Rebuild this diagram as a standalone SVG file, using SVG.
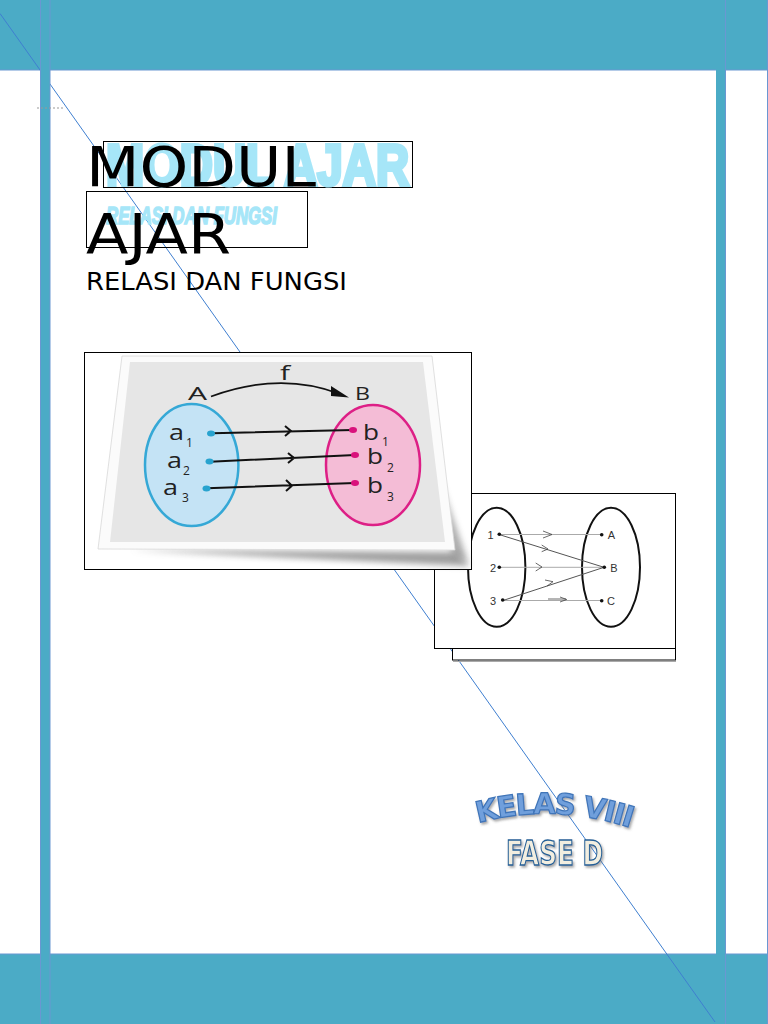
<svg xmlns="http://www.w3.org/2000/svg" width="768" height="1024" viewBox="0 0 768 1024">
<style>
.band{fill:#4babc6;stroke:#6a97d2;stroke-width:1}
.diag{fill:none;stroke:#3f7fd0;stroke-width:1}
.frame{fill:#fff;stroke:#000;stroke-width:1}
.tt{font-family:"DejaVu Sans",sans-serif;fill:#000}
.art{font-family:"Liberation Sans",sans-serif;font-weight:700;fill:#a6e6f8;stroke:#a6e6f8}
.lab{font-family:"Open Sans",sans-serif;fill:#222}
.sub{font-family:"Open Sans",sans-serif;fill:#222;font-size:12px}
.lab2{font-family:"Liberation Sans",sans-serif;font-size:11px;fill:#333;text-anchor:middle}
.ar{fill:none;stroke:#111;stroke-width:2}
.thin{fill:none;stroke:#aaa;stroke-width:1}
.thick{fill:none;stroke:#555;stroke-width:1}
.chev{fill:none;stroke:#444;stroke-width:.8}
</style>
<defs>
<filter id="blur" x="-20%" y="-50%" width="140%" height="200%"><feGaussianBlur stdDeviation="3"/></filter>
<filter id="soft" x="-10%" y="-10%" width="120%" height="130%"><feDropShadow dx="1.500" dy="2" stdDeviation="1" flood-color="#555" flood-opacity=".5"/></filter>
<path id="arc" d="M478 823 Q555 802 634 829"/>
</defs>
<rect width="768" height="1024" fill="#fff"/>
<g id="page-bands">
<rect class="band" x="-2" y="-2" width="772" height="72"/>
<rect class="band" x="-2" y="954" width="769.500" height="72"/>
</g>
<g id="diagonal">
<path class="diag" d="M0 13.500L715 1022"/>
</g>
<g id="side-bands">
<rect class="band" x="40.500" y="-2" width="9.500" height="1028"/>
<path d="M716 0V1024H725V0Z" fill="#4babc6"/>
<path d="M725.500 0V1024M767.500 0V1024" stroke="#6a97d2" fill="none"/>
<path d="M716 69.500H725M716 954H725" stroke="#4babc6"/>
</g>
<path id="dots" d="M37 108H65" stroke="#999" stroke-dasharray="2 2" fill="none"/>
<g id="title-art">
<rect x="103.500" y="141.500" width="309" height="46" fill="none" stroke="#000"/>
<text class="art" x="106" y="185" font-size="57" stroke-width="4" textLength="303" lengthAdjust="spacingAndGlyphs">MODUL AJAR</text>
<rect x="86.500" y="191.500" width="221" height="56" fill="none" stroke="#000"/>
<text class="art" x="106" y="224" font-size="23" font-style="italic" stroke-width="1.500" textLength="171" lengthAdjust="spacingAndGlyphs">RELASI DAN FUNGSI</text>
</g>
<g id="title">
<text class="tt" x="86" y="186" font-size="56" textLength="230" lengthAdjust="spacingAndGlyphs">MODUL</text>
<text class="tt" x="86" y="253" font-size="56" textLength="145" lengthAdjust="spacingAndGlyphs">AJAR</text>
<text class="tt" x="86" y="290" font-size="24" textLength="261" lengthAdjust="spacingAndGlyphs">RELASI DAN FUNGSI</text>
</g>
<g id="image-2">
<rect class="frame" x="452.500" y="600" width="223" height="60"/>
<path d="M453 661.500H676" stroke="#aaa" fill="none"/>
<rect class="frame" x="434.500" y="493.500" width="241" height="155"/>
<g fill="none" stroke="#111" stroke-width="2">
<ellipse cx="496.700" cy="567.300" rx="28.700" ry="59.500"/>
<ellipse cx="611" cy="567.300" rx="29" ry="59.500"/>
</g>
<path class="thin" d="M499 534.500H601M499 567.300H604M503 600.500H601"/>
<path class="thick" d="M499 534.500L604 567.300L503 600.500"/>
<path class="chev" d="M543 531L552 534.500L543 538M541.700 545L548 549L541.700 551.700M535.700 563L542 567L535.700 571M545 580L553 581.700L547 586M548 599H566M560 597L566.700 599.500L560 602"/>
<g fill="#111">
<circle cx="499.300" cy="534.300" r="1.800"/><circle cx="499.300" cy="567.300" r="1.800"/><circle cx="502.700" cy="600" r="1.800"/>
<circle cx="601.700" cy="534.700" r="1.800"/><circle cx="604.300" cy="567.300" r="1.800"/><circle cx="601.700" cy="600.700" r="1.800"/>
</g>
<text class="lab2" x="490.500" y="539">1</text><text class="lab2" x="493" y="571.500">2</text><text class="lab2" x="493" y="604.500">3</text>
<text class="lab2" x="611.500" y="539">A</text><text class="lab2" x="614" y="571.500">B</text><text class="lab2" x="611" y="604.500">C</text>
</g>
<g id="image-1">
<rect class="frame" x="84.500" y="352.500" width="387" height="217"/>
<path d="M130 550L455 552L470 566L380 562Z" fill="#777" opacity=".7" filter="url(#blur)"/>
<path d="M440 480L468 562L452 556Z" fill="#888" opacity=".7" filter="url(#blur)"/>
<path d="M122 356H432L455 550L98 549Z" fill="#fbfbfb" stroke="#d8d8d8" stroke-width=".8"/>
<path d="M130 362H423L445 542L110 542Z" fill="#e6e6e6"/>
<ellipse cx="191.700" cy="465" rx="46.700" ry="61" fill="#c4e3f5" stroke="#35a8d6" stroke-width="2.500"/>
<ellipse cx="373" cy="465" rx="47" ry="60" fill="#f4bcd6" stroke="#dd1f86" stroke-width="2.500"/>
<path d="M211 396.500Q280 371 340 394" fill="none" stroke="#111" stroke-width="1.800"/>
<path d="M331 386L349 397.500L331 396Z" fill="#111"/>
<path class="ar" d="M212 433.300L353 430M285 426L291 431L285 436M210 461.700L355 455M288 453L294 458L288 463M207 488.300L355 483M286 480L292 485.700L286 491"/>
<g fill="#28a3cf"><ellipse cx="211" cy="433.500" rx="4" ry="3"/><ellipse cx="209.500" cy="461.500" rx="4" ry="3"/><ellipse cx="206.500" cy="488.500" rx="4" ry="3"/></g>
<g fill="#d9127c"><ellipse cx="353" cy="430" rx="4" ry="3"/><ellipse cx="355" cy="455" rx="4" ry="3"/><ellipse cx="355" cy="483" rx="4" ry="3"/></g>
<text class="lab" x="188" y="400" font-size="19" textLength="19" lengthAdjust="spacingAndGlyphs">A</text>
<text class="lab" x="355" y="400" font-size="19" textLength="15" lengthAdjust="spacingAndGlyphs">B</text>
<text class="lab" x="280" y="380" font-size="20" textLength="10" lengthAdjust="spacingAndGlyphs">f</text>
<text class="lab" x="169" y="440" font-size="22" textLength="15" lengthAdjust="spacingAndGlyphs">a</text><text class="sub" x="186" y="447">1</text>
<text class="lab" x="167" y="468" font-size="22" textLength="15" lengthAdjust="spacingAndGlyphs">a</text><text class="sub" x="183" y="475">2</text>
<text class="lab" x="163" y="495" font-size="22" textLength="15" lengthAdjust="spacingAndGlyphs">a</text><text class="sub" x="182" y="502">3</text>
<text class="lab" x="363" y="440" font-size="22" textLength="16" lengthAdjust="spacingAndGlyphs">b</text><text class="sub" x="382" y="446">1</text>
<text class="lab" x="367" y="464" font-size="22" textLength="16" lengthAdjust="spacingAndGlyphs">b</text><text class="sub" x="387" y="472">2</text>
<text class="lab" x="367" y="493" font-size="22" textLength="16" lengthAdjust="spacingAndGlyphs">b</text><text class="sub" x="387" y="501">3</text>
</g>
<g id="kelas" filter="url(#soft)">
<text font-family="DejaVu Sans, sans-serif" font-weight="700" font-size="29" fill="#6f9fdc" stroke="#3f74b8" stroke-width="1.200" textLength="155" lengthAdjust="spacing"><textPath href="#arc">KELAS VIII</textPath></text>
<text font-family="DejaVu Sans, sans-serif" font-weight="700" font-size="33" fill="#f2eee0" stroke="#245f96" stroke-width="1.300" x="506" y="865" textLength="97" lengthAdjust="spacingAndGlyphs">FASE D</text>
</g>
</svg>
